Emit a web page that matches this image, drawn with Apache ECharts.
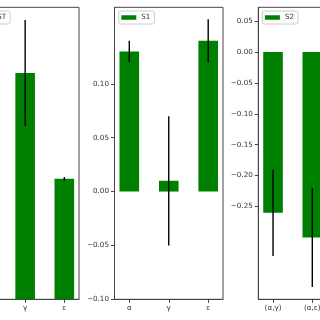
<!DOCTYPE html>
<html>
<head>
<meta charset="utf-8">
<script src="https://cdn.jsdelivr.net/npm/echarts@6/dist/echarts.min.js"></script>
<style>
  html, body { margin: 0; padding: 0; background: #fff; }
  #chart { width: 320px; height: 320px; }
</style>
</head>
<body>
<div id="chart"></div>
<script>
// categories
var singleCats = ["α", "γ", "ε"];
var pairCats = ["(α,γ)", "(α,ε)", "(γ,ε)"];

// total order (left panel, only partly visible)
var stValues = [0.45, 0.62, 0.33];
var stErrors = [0.05, 0.145, 0.005];

// first order
var s1Values = [0.13, 0.01, 0.14];
var s1Errors = [0.01, 0.06, 0.02];

// second order
var s2Values = [-0.26, -0.30, -0.04];
var s2Errors = [0.07, 0.08, 0.10];

// tick labels
var s1Ticks = [-0.10, -0.05, 0.00, 0.05, 0.10];
var s2Ticks = [-0.25, -0.20, -0.15, -0.10, -0.05, 0.00, 0.05];

var font = "DejaVu Sans";
var txt = "#333";
var frame = "#444";

function fmt(v) {
  return (v < 0 ? "−" : "") + Math.abs(v).toFixed(2);
}

function barData(vals) {
  return vals.map(function (v, i) { return [i, v]; });
}
function errData(vals, errs) {
  return vals.map(function (v, i) { return [i, v - errs[i], v + errs[i]]; });
}

function errorItem(params, api) {
  var p1 = api.coord([api.value(0), api.value(1)]);
  var p2 = api.coord([api.value(0), api.value(2)]);
  return {
    type: "line",
    shape: { x1: p1[0], y1: p1[1], x2: p2[0], y2: p2[1] },
    style: { stroke: "#000", lineWidth: 1.4 }
  };
}

function xAxisFor(idx, cats) {
  return {
    type: "value", gridIndex: idx, min: -0.375, max: 2.375,
    splitLine: { show: false },
    axisLine: { show: true, onZero: false, lineStyle: { color: frame, width: 1 } },
    axisTick: { show: true, length: 3.5, customValues: [0, 1, 2], lineStyle: { color: frame } },
    axisLabel: {
      customValues: [0, 1, 2], margin: 5, color: txt, fontSize: 7.2, fontFamily: font,
      formatter: function (v) { return cats[Math.round(v)]; }
    }
  };
}

function yAxisFor(idx, min, max, ticks) {
  return {
    type: "value", gridIndex: idx, min: min, max: max,
    splitLine: { show: false },
    axisLine: { show: true, onZero: false, lineStyle: { color: frame, width: 1 } },
    axisTick: { show: !!ticks, length: 3.5, customValues: ticks || [], lineStyle: { color: frame } },
    axisLabel: {
      show: !!ticks, customValues: ticks || [], margin: 5.5, color: txt, fontSize: 7.2, fontFamily: font,
      formatter: fmt
    }
  };
}

function legendFor(left, name) {
  return {
    left: left, top: 11, orient: "horizontal",
    data: [{ name: name, icon: "rect" }],
    itemWidth: 15, itemHeight: 4.5, itemGap: 5,
    padding: [3, 4, 3, 2.6],
    backgroundColor: "#fff", borderColor: "#ccc", borderWidth: 1, borderRadius: 2,
    textStyle: { color: txt, fontSize: 7.2, fontFamily: font }
  };
}

var gridBase = { top: 7.3, height: 292, show: true, borderColor: frame, borderWidth: 1, containLabel: false, outerBoundsMode: "none" };

var option = {
  animation: false,
  backgroundColor: "#fff",
  grid: [
    Object.assign({ left: -28.7, width: 107.7 }, gridBase),
    Object.assign({ left: 114.5, width: 108.5 }, gridBase),
    Object.assign({ left: 258.3, width: 108 }, gridBase)
  ],
  xAxis: [xAxisFor(0, singleCats), xAxisFor(1, singleCats), xAxisFor(2, pairCats)],
  yAxis: [
    yAxisFor(0, 0, 0.80, null),
    yAxisFor(1, -0.10, 0.171, s1Ticks),
    yAxisFor(2, -0.40, 0.0722, s2Ticks)
  ],
  legend: [legendFor(-25.4, "ST"), legendFor(118.7, "S1"), legendFor(262.3, "S2")],
  series: [
    { name: "ST", type: "bar", xAxisIndex: 0, yAxisIndex: 0, barWidth: 19.6, itemStyle: { color: "#008000" }, data: barData(stValues) },
    { name: "S1", type: "bar", xAxisIndex: 1, yAxisIndex: 1, barWidth: 19.6, itemStyle: { color: "#008000" }, data: barData(s1Values) },
    { name: "S2", type: "bar", xAxisIndex: 2, yAxisIndex: 2, barWidth: 19.6, itemStyle: { color: "#008000" }, data: barData(s2Values) },
    { type: "custom", xAxisIndex: 0, yAxisIndex: 0, renderItem: errorItem, encode: { x: 0, y: [1, 2] }, data: errData(stValues, stErrors), z: 5 },
    { type: "custom", xAxisIndex: 1, yAxisIndex: 1, renderItem: errorItem, encode: { x: 0, y: [1, 2] }, data: errData(s1Values, s1Errors), z: 5 },
    { type: "custom", xAxisIndex: 2, yAxisIndex: 2, renderItem: errorItem, encode: { x: 0, y: [1, 2] }, data: errData(s2Values, s2Errors), z: 5 }
  ]
};

var chart = echarts.init(document.getElementById("chart"), null, { renderer: "canvas" });
chart.setOption(option);
</script>
</body>
</html>
